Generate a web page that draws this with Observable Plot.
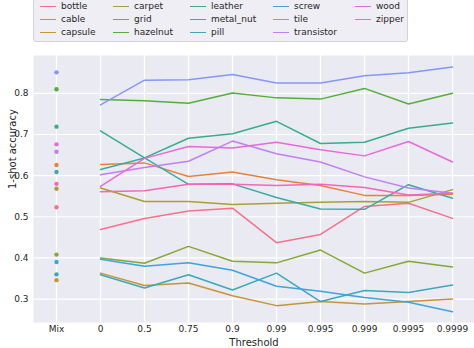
<!DOCTYPE html>
<html><head><meta charset="utf-8">
<script src="https://cdn.jsdelivr.net/npm/d3@7"></script>
<script src="https://cdn.jsdelivr.net/npm/@observablehq/plot@0.6"></script>
<style>
body{margin:0;background:#fff;font-family:"DejaVu Sans",sans-serif;}
#wrap{position:relative;width:474px;height:348px;overflow:hidden;}
#legend{position:absolute;left:33px;top:-3px;width:375px;height:45px;background:#eeeef4;border:1px solid #d4d4d8;border-radius:3px;box-sizing:border-box;font-size:9px;color:#262626;z-index:2}
.item{position:absolute;height:12px;line-height:12px;white-space:nowrap}
.sw{position:absolute;top:6px;height:0;border-top:1.5px solid;width:16px}
.lb{position:absolute;top:0}
</style></head>
<body><div id="wrap"><div id="legend"></div></div>
<script>
const categories = ["bottle","cable","capsule","carpet","grid","hazelnut","leather","metal_nut","pill","screw","tile","transistor","wood","zipper"];
const thresholds = ["0","0.5","0.75","0.9","0.99","0.995","0.999","0.9995","0.9999"];
const mixValues = [0.523,0.626,0.346,0.568,0.408,0.810,0.719,0.609,0.360,0.390,0.851,0.658,0.676,0.580];
const yTicks = [0.3,0.4,0.5,0.6,0.7,0.8];

const bottle    = [0.469,0.496,0.514,0.521,0.437,0.457,0.525,0.533,0.496];
const cable     = [0.627,0.631,0.598,0.609,0.590,0.576,0.552,0.552,0.555];
const capsule   = [0.363,0.333,0.339,0.308,0.284,0.294,0.288,0.294,0.300];
const carpet    = [0.570,0.537,0.537,0.530,0.533,0.535,0.537,0.535,0.566];
const grid      = [0.400,0.387,0.428,0.392,0.388,0.419,0.363,0.392,0.378];
const hazelnut  = [0.785,0.782,0.776,0.801,0.789,0.786,0.812,0.774,0.800];
const leather   = [0.709,0.643,0.691,0.702,0.732,0.678,0.681,0.715,0.728];
const metal_nut = [0.615,0.643,0.579,0.580,0.547,0.519,0.518,0.578,0.545];
const pill      = [0.359,0.327,0.359,0.322,0.363,0.294,0.321,0.316,0.334];
const screw     = [0.397,0.380,0.388,0.370,0.331,0.319,0.304,0.292,0.269];
const tile      = [0.772,0.832,0.833,0.846,0.825,0.825,0.843,0.850,0.864];
const transistor= [0.602,0.620,0.635,0.684,0.653,0.633,0.597,0.570,0.557];
const wood      = [0.574,0.642,0.671,0.667,0.681,0.663,0.648,0.683,0.633];
const zipper    = [0.561,0.563,0.579,0.579,0.576,0.579,0.571,0.553,0.557];

const seriesByCat = {bottle,cable,capsule,carpet,grid,hazelnut,leather,metal_nut,pill,screw,tile,transistor,wood,zipper};
const palette = ["#f77189","#e8823a","#c99432","#aaa031","#84a931","#55ae3a","#34ae8b","#36ada4","#38aab8","#3ba5dc","#8596f4","#c27ef4","#e86ad8","#f567b4"];

const rows = [];
categories.forEach(c => thresholds.forEach((t, j) => rows.push({cat: c, x: t, y: seriesByCat[c][j]})));
const mix = categories.map((c, i) => ({cat: c, x: "Mix", y: mixValues[i]}));
const xDomain = ["Mix", ...thresholds];

const chart = Plot.plot({
  width: 474, height: 348,
  marginTop: 55, marginBottom: 26, marginLeft: 33, marginRight: 0,
  style: {fontFamily: "DejaVu Sans", fontSize: "9px", color: "#262626", background: "transparent"},
  x: {type: "point", domain: xDomain, padding: 0.455, label: null},
  y: {domain: [0.243, 0.892], label: null},
  color: {domain: categories, range: palette},
  marks: [
    Plot.frame({fill: "#eaeaf2", stroke: null}),
    Plot.gridY(yTicks, {stroke: "white", strokeOpacity: 1, strokeWidth: 1.2}),
    Plot.gridX(xDomain, {stroke: "white", strokeOpacity: 1, strokeWidth: 1.2}),
    Plot.axisY(yTicks, {tickSize: 0, tickPadding: 5, tickFormat: d => d.toFixed(1), label: null}),
    Plot.axisX({tickSize: 0, tickPadding: 3, label: null}),
    Plot.line(rows, {x: "x", y: "y", z: "cat", stroke: "cat", strokeWidth: 1.5}),
    Plot.dot(mix, {x: "x", y: "y", fill: "cat", r: 2.2}),
    Plot.text(["1-shot accuracy"], {frameAnchor: "left", dx: -21, rotate: -90, fontSize: 10, fill: "#262626"}),
    Plot.text(["Threshold"], {frameAnchor: "bottom", lineAnchor: "middle", dy: 20, fontSize: 10, fill: "#262626"})
  ]
});
document.getElementById("wrap").appendChild(chart);

const legend = document.getElementById("legend");
const colX = [6, 79, 156, 239, 321];
const rowY = [5, 17.5, 30.5];
categories.forEach((c, i) => {
  const col = Math.floor(i / 3), row = i % 3;
  const it = document.createElement("div");
  it.className = "item";
  it.style.left = colX[col] + "px";
  it.style.top = (rowY[row] - 3) + "px";
  it.innerHTML = `<span class="sw" style="border-color:${palette[i]};left:0"></span><span class="lb" style="left:21px">${c}</span>`;
  legend.appendChild(it);
});
</script>
</body></html>
